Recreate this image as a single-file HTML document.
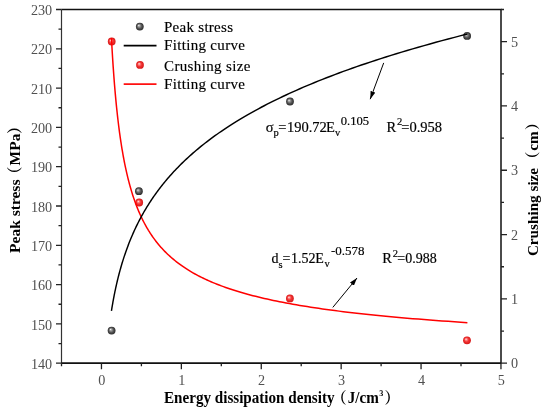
<!DOCTYPE html>
<html><head><meta charset="utf-8"><style>
html,body{margin:0;padding:0;background:#fff;}
body{width:550px;height:412px;overflow:hidden;}
svg{display:block;}
.tk{font-family:"Liberation Serif","Noto Serif CJK SC",serif;font-size:14.2px;fill:#505050;}
.lg{font-family:"Liberation Serif","Noto Serif CJK SC",serif;font-size:15px;fill:#000;stroke:#000;stroke-width:0.15px;}
.ti{font-family:"Liberation Serif","Noto Serif CJK SC",serif;font-size:15.5px;font-weight:bold;fill:#000;}
.an{font-family:"Liberation Serif",serif;font-size:14.5px;fill:#000;stroke:#000;stroke-width:0.18px;}
.sb{font-size:10.5px;}
.sp{font-size:12.6px;}
.s2{font-size:10.5px;}
</style></head><body>
<svg width="550" height="412" viewBox="0 0 550 412">
<defs>
<radialGradient id="gg" cx="0.5" cy="0.5" r="0.5" fx="0.36" fy="0.34">
<stop offset="0" stop-color="#ffffff"/><stop offset="0.22" stop-color="#a8a8a8"/><stop offset="0.6" stop-color="#575757"/><stop offset="1" stop-color="#2a2a2a"/>
</radialGradient>
<radialGradient id="gr" cx="0.5" cy="0.5" r="0.5" fx="0.36" fy="0.34">
<stop offset="0" stop-color="#ffffff"/><stop offset="0.22" stop-color="#ff8a8a"/><stop offset="0.55" stop-color="#f23434"/><stop offset="1" stop-color="#d61818"/>
</radialGradient>
<marker id="ah" viewBox="0 0 10 10" preserveAspectRatio="none" refX="10" refY="5" markerWidth="8" markerHeight="5" markerUnits="userSpaceOnUse" orient="auto">
<path d="M0,0 L10,5 L0,10 z" fill="#000"/></marker>
</defs>
<path d="M61.5,9.5H501.0V363.2" fill="none" stroke="#111" stroke-width="1.5"/>
<path d="M61.5,9.5V363.2" fill="none" stroke="#333" stroke-width="1.2"/>
<path d="M61.5,363.2H501.0" fill="none" stroke="#111" stroke-width="1.8"/>
<path d="M56.00,363.20H61.5 M56.00,323.90H61.5 M56.00,284.60H61.5 M56.00,245.30H61.5 M56.00,206.00H61.5 M56.00,166.70H61.5 M56.00,127.40H61.5 M56.00,88.10H61.5 M56.00,48.80H61.5 M56.00,9.50H61.5 M58.50,343.55H61.5 M58.50,304.25H61.5 M58.50,264.95H61.5 M58.50,225.65H61.5 M58.50,186.35H61.5 M58.50,147.05H61.5 M58.50,107.75H61.5 M58.50,68.45H61.5 M58.50,29.15H61.5 M101.46,363.2V369.2 M181.36,363.2V369.2 M261.26,363.2V369.2 M341.16,363.2V369.2 M421.06,363.2V369.2 M500.96,363.2V369.2 M61.51,363.2V366.2 M141.41,363.2V366.2 M221.31,363.2V366.2 M301.21,363.2V366.2 M381.11,363.2V366.2 M461.01,363.2V366.2 M501.0,363.20H507.0 M501.0,298.89H507.0 M501.0,234.58H507.0 M501.0,170.27H507.0 M501.0,105.96H507.0 M501.0,41.65H507.0 M501.0,331.04H504.0 M501.0,266.74H504.0 M501.0,202.42H504.0 M501.0,138.11H504.0 M501.0,73.81H504.0 M501.0,9.49H504.0" fill="none" stroke="#222" stroke-width="1.3"/>
<g class="tk"><text x="52.2" y="368.80" text-anchor="end">140</text><text x="52.2" y="329.50" text-anchor="end">150</text><text x="52.2" y="290.20" text-anchor="end">160</text><text x="52.2" y="250.90" text-anchor="end">170</text><text x="52.2" y="211.60" text-anchor="end">180</text><text x="52.2" y="172.30" text-anchor="end">190</text><text x="52.2" y="133.00" text-anchor="end">200</text><text x="52.2" y="93.70" text-anchor="end">210</text><text x="52.2" y="54.40" text-anchor="end">220</text><text x="52.2" y="15.10" text-anchor="end">230</text><text x="101.86" y="385.3" text-anchor="middle">0</text><text x="181.76" y="385.3" text-anchor="middle">1</text><text x="261.66" y="385.3" text-anchor="middle">2</text><text x="341.56" y="385.3" text-anchor="middle">3</text><text x="421.46" y="385.3" text-anchor="middle">4</text><text x="501.36" y="385.3" text-anchor="middle">5</text><text x="511" y="368.40">0</text><text x="511" y="304.09">1</text><text x="511" y="239.78">2</text><text x="511" y="175.47">3</text><text x="511" y="111.16">4</text><text x="511" y="46.85">5</text></g>
<circle cx="111.6" cy="330.6" r="3.9" fill="url(#gg)"/><circle cx="138.9" cy="191.2" r="3.9" fill="url(#gg)"/><circle cx="290.0" cy="101.5" r="3.9" fill="url(#gg)"/><circle cx="467.1" cy="35.9" r="3.9" fill="url(#gg)"/>
<circle cx="111.7" cy="41.5" r="3.9" fill="url(#gr)"/><circle cx="139.2" cy="202.5" r="3.9" fill="url(#gr)"/><circle cx="289.9" cy="298.4" r="3.9" fill="url(#gr)"/><circle cx="467.0" cy="340.3" r="3.9" fill="url(#gr)"/>
<path d="M111.45,38.03 L111.63,41.40 L111.81,44.73 L112.00,48.03 L112.19,51.29 L112.39,54.52 L112.59,57.72 L112.79,60.88 L112.99,64.01 L113.20,67.11 L113.42,70.17 L113.64,73.21 L113.86,76.21 L114.08,79.18 L114.31,82.12 L114.54,85.03 L114.78,87.91 L115.02,90.76 L115.27,93.58 L115.52,96.37 L115.78,99.13 L116.04,101.87 L116.30,104.57 L116.57,107.25 L116.85,109.90 L117.13,112.52 L117.41,115.12 L117.70,117.69 L118.00,120.23 L118.30,122.75 L118.60,125.23 L118.91,127.70 L119.23,130.14 L119.55,132.55 L119.88,134.94 L120.22,137.30 L120.56,139.64 L120.90,141.95 L121.26,144.25 L121.62,146.51 L121.98,148.76 L122.36,150.98 L122.74,153.17 L123.12,155.35 L123.52,157.50 L123.92,159.63 L124.32,161.74 L124.74,163.82 L125.16,165.89 L125.59,167.93 L126.03,169.95 L126.48,171.95 L126.93,173.93 L127.40,175.89 L127.87,177.83 L128.35,179.75 L128.84,181.65 L129.33,183.53 L129.84,185.39 L130.36,187.23 L130.88,189.05 L131.41,190.86 L131.96,192.64 L132.51,194.41 L133.08,196.15 L133.65,197.88 L134.24,199.59 L134.83,201.29 L135.44,202.96 L136.06,204.62 L136.68,206.26 L137.32,207.89 L137.98,209.50 L138.64,211.09 L139.31,212.66 L140.00,214.22 L140.70,215.76 L141.42,217.29 L142.14,218.80 L142.88,220.30 L143.63,221.78 L144.40,223.24 L145.18,224.69 L145.97,226.12 L146.78,227.54 L147.61,228.95 L148.44,230.34 L149.30,231.71 L150.17,233.07 L151.05,234.42 L151.95,235.75 L152.87,237.07 L153.81,238.38 L154.76,239.67 L155.72,240.95 L156.71,242.22 L157.71,243.47 L158.74,244.71 L159.78,245.94 L160.84,247.15 L161.92,248.35 L163.01,249.54 L164.13,250.72 L165.27,251.88 L166.43,253.03 L167.61,254.18 L168.81,255.30 L170.04,256.42 L171.28,257.53 L172.55,258.62 L173.84,259.70 L175.16,260.77 L176.50,261.84 L177.86,262.88 L179.25,263.92 L180.66,264.95 L182.10,265.97 L183.57,266.98 L185.06,267.97 L186.58,268.96 L188.12,269.93 L189.70,270.90 L191.30,271.85 L192.93,272.80 L194.59,273.74 L196.29,274.66 L198.01,275.58 L199.76,276.49 L201.55,277.38 L203.37,278.27 L205.22,279.15 L207.10,280.02 L209.02,280.88 L210.98,281.74 L212.97,282.58 L214.99,283.41 L217.06,284.24 L219.16,285.06 L221.30,285.87 L223.47,286.67 L225.69,287.46 L227.95,288.24 L230.24,289.02 L232.58,289.79 L234.97,290.55 L237.39,291.30 L239.86,292.04 L242.38,292.78 L244.94,293.51 L247.54,294.23 L250.20,294.95 L252.90,295.65 L255.65,296.35 L258.45,297.04 L261.31,297.73 L264.21,298.41 L267.17,299.08 L270.18,299.74 L273.24,300.40 L276.36,301.05 L279.54,301.69 L282.78,302.33 L286.07,302.96 L289.43,303.58 L292.84,304.20 L296.32,304.81 L299.86,305.41 L303.46,306.01 L307.13,306.61 L310.87,307.19 L314.68,307.77 L318.55,308.34 L322.49,308.91 L326.51,309.47 L330.60,310.03 L334.76,310.58 L339.00,311.13 L343.32,311.67 L347.71,312.20 L352.18,312.73 L356.74,313.25 L361.38,313.77 L366.10,314.28 L370.91,314.79 L375.80,315.29 L380.79,315.78 L385.86,316.27 L391.03,316.76 L396.29,317.24 L401.65,317.72 L407.10,318.19 L412.66,318.65 L418.31,319.11 L424.07,319.57 L429.93,320.02 L435.90,320.47 L441.97,320.91 L448.16,321.35 L454.46,321.78 L460.87,322.21 L467.40,322.64" fill="none" stroke="#ff0000" stroke-width="1.5"/>
<path d="M111.45,310.89 L111.63,309.75 L111.81,308.61 L112.00,307.46 L112.19,306.32 L112.39,305.17 L112.59,304.02 L112.79,302.86 L112.99,301.71 L113.20,300.55 L113.42,299.39 L113.64,298.23 L113.86,297.06 L114.08,295.90 L114.31,294.73 L114.54,293.56 L114.78,292.39 L115.02,291.21 L115.27,290.03 L115.52,288.85 L115.78,287.67 L116.04,286.49 L116.30,285.30 L116.57,284.11 L116.85,282.92 L117.13,281.73 L117.41,280.53 L117.70,279.34 L118.00,278.14 L118.30,276.93 L118.60,275.73 L118.91,274.52 L119.23,273.31 L119.55,272.10 L119.88,270.89 L120.22,269.67 L120.56,268.45 L120.90,267.23 L121.26,266.01 L121.62,264.79 L121.98,263.56 L122.36,262.33 L122.74,261.10 L123.12,259.86 L123.52,258.63 L123.92,257.39 L124.32,256.15 L124.74,254.90 L125.16,253.66 L125.59,252.41 L126.03,251.16 L126.48,249.90 L126.93,248.65 L127.40,247.39 L127.87,246.13 L128.35,244.87 L128.84,243.60 L129.33,242.33 L129.84,241.06 L130.36,239.79 L130.88,238.52 L131.41,237.24 L131.96,235.96 L132.51,234.68 L133.08,233.39 L133.65,232.11 L134.24,230.82 L134.83,229.53 L135.44,228.23 L136.06,226.93 L136.68,225.64 L137.32,224.33 L137.98,223.03 L138.64,221.72 L139.31,220.41 L140.00,219.10 L140.70,217.79 L141.42,216.47 L142.14,215.15 L142.88,213.83 L143.63,212.51 L144.40,211.18 L145.18,209.85 L145.97,208.52 L146.78,207.19 L147.61,205.85 L148.44,204.51 L149.30,203.17 L150.17,201.83 L151.05,200.48 L151.95,199.13 L152.87,197.78 L153.81,196.43 L154.76,195.07 L155.72,193.71 L156.71,192.35 L157.71,190.98 L158.74,189.62 L159.78,188.25 L160.84,186.87 L161.92,185.50 L163.01,184.12 L164.13,182.74 L165.27,181.36 L166.43,179.97 L167.61,178.59 L168.81,177.20 L170.04,175.80 L171.28,174.41 L172.55,173.01 L173.84,171.61 L175.16,170.20 L176.50,168.80 L177.86,167.39 L179.25,165.98 L180.66,164.56 L182.10,163.14 L183.57,161.72 L185.06,160.30 L186.58,158.88 L188.12,157.45 L189.70,156.02 L191.30,154.59 L192.93,153.15 L194.59,151.71 L196.29,150.27 L198.01,148.83 L199.76,147.38 L201.55,145.93 L203.37,144.48 L205.22,143.02 L207.10,141.56 L209.02,140.10 L210.98,138.64 L212.97,137.17 L214.99,135.70 L217.06,134.23 L219.16,132.76 L221.30,131.28 L223.47,129.80 L225.69,128.32 L227.95,126.83 L230.24,125.34 L232.58,123.85 L234.97,122.36 L237.39,120.86 L239.86,119.36 L242.38,117.86 L244.94,116.35 L247.54,114.85 L250.20,113.33 L252.90,111.82 L255.65,110.30 L258.45,108.78 L261.31,107.26 L264.21,105.74 L267.17,104.21 L270.18,102.68 L273.24,101.14 L276.36,99.60 L279.54,98.06 L282.78,96.52 L286.07,94.98 L289.43,93.43 L292.84,91.87 L296.32,90.32 L299.86,88.76 L303.46,87.20 L307.13,85.64 L310.87,84.07 L314.68,82.50 L318.55,80.93 L322.49,79.35 L326.51,77.78 L330.60,76.20 L334.76,74.61 L339.00,73.02 L343.32,71.43 L347.71,69.84 L352.18,68.24 L356.74,66.64 L361.38,65.04 L366.10,63.44 L370.91,61.83 L375.80,60.22 L380.79,58.60 L385.86,56.98 L391.03,55.36 L396.29,53.74 L401.65,52.11 L407.10,50.48 L412.66,48.85 L418.31,47.21 L424.07,45.58 L429.93,43.93 L435.90,42.29 L441.97,40.64 L448.16,38.99 L454.46,37.33 L460.87,35.67 L467.40,34.01" fill="none" stroke="#000" stroke-width="1.45"/>
<circle cx="139.8" cy="26.6" r="3.9" fill="url(#gg)"/>
<path d="M123.7,45.6H156.5" stroke="#000" stroke-width="1.6"/>
<circle cx="140.0" cy="64.9" r="3.9" fill="url(#gr)"/>
<path d="M123.7,84.1H156.5" stroke="#ff1010" stroke-width="1.6"/>
<g class="lg">
<text x="164" y="31.5" textLength="69">Peak stress</text>
<text x="164" y="50.4" textLength="81">Fitting curve</text>
<text x="164" y="70.5" textLength="86.5">Crushing size</text>
<text x="164" y="89.2" textLength="81">Fitting curve</text>
</g>
<line x1="383.7" y1="62.9" x2="370.2" y2="99.2" stroke="#000" stroke-width="1" marker-end="url(#ah)"/>
<line x1="332.8" y1="307.4" x2="357.0" y2="278.0" stroke="#000" stroke-width="1" marker-end="url(#ah)"/>
<text class="an"><tspan x="265.8" y="132.1">σ</tspan><tspan class="sb" x="273.5" y="135.6">p</tspan><tspan x="278.2" y="132.1">=</tspan><tspan x="286.9" y="132.1">190.72</tspan><tspan x="325.9" y="132.1">E</tspan><tspan class="sb" x="335.1" y="135.9">v</tspan><tspan class="sp" x="340.7" y="124.9">0.105</tspan></text>
<text class="an"><tspan x="386.6" y="132.0">R</tspan><tspan class="s2" x="397" y="124.8">2</tspan><tspan x="401.3" y="132.0">=0.958</tspan></text>
<text class="an" style="font-size:14px"><tspan x="271.6" y="262.8">d</tspan><tspan class="sb" x="278.4" y="267.6">s</tspan><tspan x="282.4" y="262.8">=</tspan><tspan x="291" y="262.8">1.52</tspan><tspan x="315.2" y="262.8">E</tspan><tspan class="sb" x="324.6" y="266.9">v</tspan><tspan class="sp" x="330.9" y="255.1" style="font-size:13px">-0.578</tspan></text>
<text class="an" style="font-size:14px"><tspan x="382.3" y="262.7" style="font-size:14.5px">R</tspan><tspan class="s2" x="392.8" y="256.6">2</tspan><tspan x="397.3" y="262.7">=0.988</tspan></text>
<text class="ti" transform="translate(164,402.7) scale(0.963,1)" x="0" y="0" style="font-size:15.7px">Energy dissipation density<tspan dx="-3.2">（</tspan><tspan dx="1.2">J/cm</tspan><tspan style="font-size:8.5px" dy="-7.2" dx="0.6">3</tspan><tspan dy="7.2" dx="1.2">）</tspan></text>
<text class="ti" transform="translate(20.0,252.9) rotate(-90)" x="0" y="0">Peak stress<tspan dx="-2.5">（</tspan><tspan dx="1.1">MPa</tspan><tspan dx="-0.5">）</tspan></text>
<text class="ti" transform="translate(538.3,256.1) rotate(-90)" x="0" y="0" style="font-size:15.2px">Crushing size<tspan dx="1.2">（</tspan><tspan dx="0.9">cm</tspan><tspan dx="1">）</tspan></text>
</svg>
</body></html>
